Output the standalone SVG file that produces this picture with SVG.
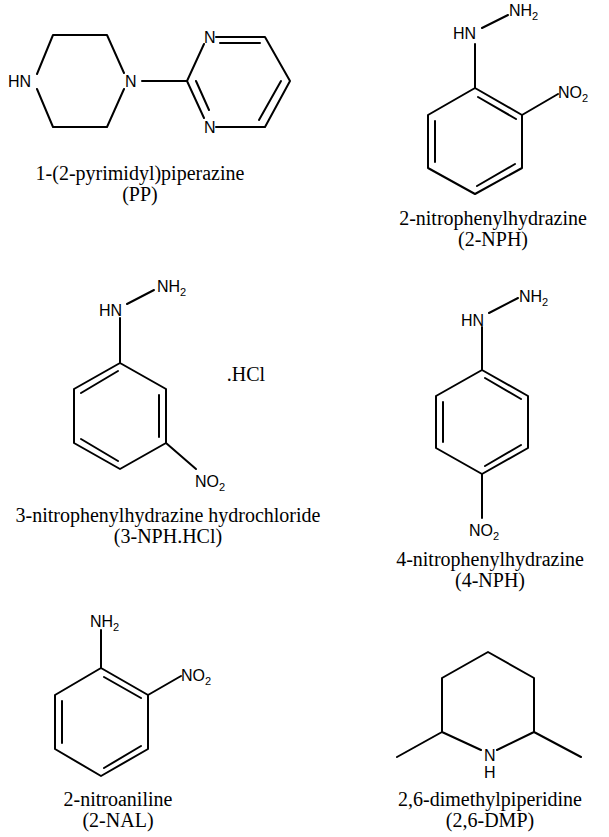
<svg xmlns="http://www.w3.org/2000/svg" width="609" height="837" viewBox="0 0 609 837">
<style>
.b{stroke:#000;stroke-width:2;fill:none;stroke-linecap:round;stroke-linejoin:round}
.a{font-family:"Liberation Sans",Arial,sans-serif;font-size:16px;fill:#000}
.s{font-size:11px}
.l{font-family:"Liberation Serif","Times New Roman",serif;font-size:20px;fill:#000;text-anchor:middle}
</style>
<rect width="609" height="837" fill="#fff"/>
<g id="connectors">
<path class="b" d="M37,74 L53,35 L107,35 L124,73 M124,89 L107,127 L53,127 L37,89 M142,81 L187,81 L204,44 M216,37 L265,37 L290,81 L265,127 L216,127 M204,118 L187,81 M220,43 L260,43 M281,81 L259,120 M196,81 L209,110"/>
<path class="b" d="M482,28 L508,15 M475,44 L475,88 M475,88 L522,115 L522,168 L475,194 L428,168 L428,115 Z M522,115 L558,94 M478,97 L516,119 M435,121 L435,162 M477,186 L515,164"/>
<path class="b" d="M127,304 L154,290 M120,318 L120,363 M120,363 L166,389 L166,443 L120,469 L74,443 L74,389 Z M166,443 L196,469 M118,371 L81,393 M159,395 L159,437 M81,439 L118,461"/>
<path class="b" d="M489,313 L518,298 M482,327 L482,370 M482,370 L528,396 L528,448 L482,474 L436,448 L436,396 Z M482,474 L482,518 M485,378 L521,399 M443,402 L443,442 M485,466 L521,445"/>
<path class="b" d="M101,630 L101,668 M101,668 L148,695 L148,749 L101,776 L55,749 L55,695 Z M148,695 L181,676 M104,677 L141,698 M62,701 L62,743 M104,768 L141,746"/>
<path class="b" d="M481,750 L442,732 L442,678 L488,652 L534,678 L534,732 L497,750 M442,732 L397,757 M534,732 L581,757"/>
</g>
<g id="pp">
<text class="a" x="8" y="87">HN</text>
<text class="a" x="125" y="87">N</text>
<text class="a" x="204" y="43">N</text>
<text class="a" x="204" y="133">N</text>
<text class="l" x="140" y="180">1-(2-pyrimidyl)piperazine</text>
<text class="l" x="140" y="201">(PP)</text>
</g>
<g id="nph2">
<text class="a" x="453" y="39">HN</text>
<text class="a" x="509" y="16">NH<tspan class="s" dy="4">2</tspan></text>
<text class="a" x="558" y="98">NO<tspan class="s" dy="4">2</tspan></text>
<text class="l" x="493" y="225">2-nitrophenylhydrazine</text>
<text class="l" x="493" y="246">(2-NPH)</text>
</g>
<g id="nph3">
<text class="a" x="99" y="316">HN</text>
<text class="a" x="157" y="292">NH<tspan class="s" dy="4">2</tspan></text>
<text class="a" x="195" y="487">NO<tspan class="s" dy="4">2</tspan></text>
<text class="l" x="246" y="381">.HCl</text>
<text class="l" x="168" y="522">3-nitrophenylhydrazine hydrochloride</text>
<text class="l" x="168" y="543">(3-NPH.HCl)</text>
</g>
<g id="nph4">
<text class="a" x="461" y="326">HN</text>
<text class="a" x="519" y="302">NH<tspan class="s" dy="4">2</tspan></text>
<text class="a" x="469" y="536">NO<tspan class="s" dy="4">2</tspan></text>
<text class="l" x="490" y="566">4-nitrophenylhydrazine</text>
<text class="l" x="490" y="587">(4-NPH)</text>
</g>
<g id="nal">
<text class="a" x="90" y="627">NH<tspan class="s" dy="4">2</tspan></text>
<text class="a" x="181" y="681">NO<tspan class="s" dy="4">2</tspan></text>
<text class="l" x="118" y="806">2-nitroaniline</text>
<text class="l" x="118" y="827">(2-NAL)</text>
</g>
<g id="dmp">
<text class="a" x="484" y="761" font-size="14">N</text>
<text class="a" x="484" y="778" font-size="14">H</text>
<text class="l" x="490" y="806">2,6-dimethylpiperidine</text>
<text class="l" x="490" y="827">(2,6-DMP)</text>
</g>
</svg>
